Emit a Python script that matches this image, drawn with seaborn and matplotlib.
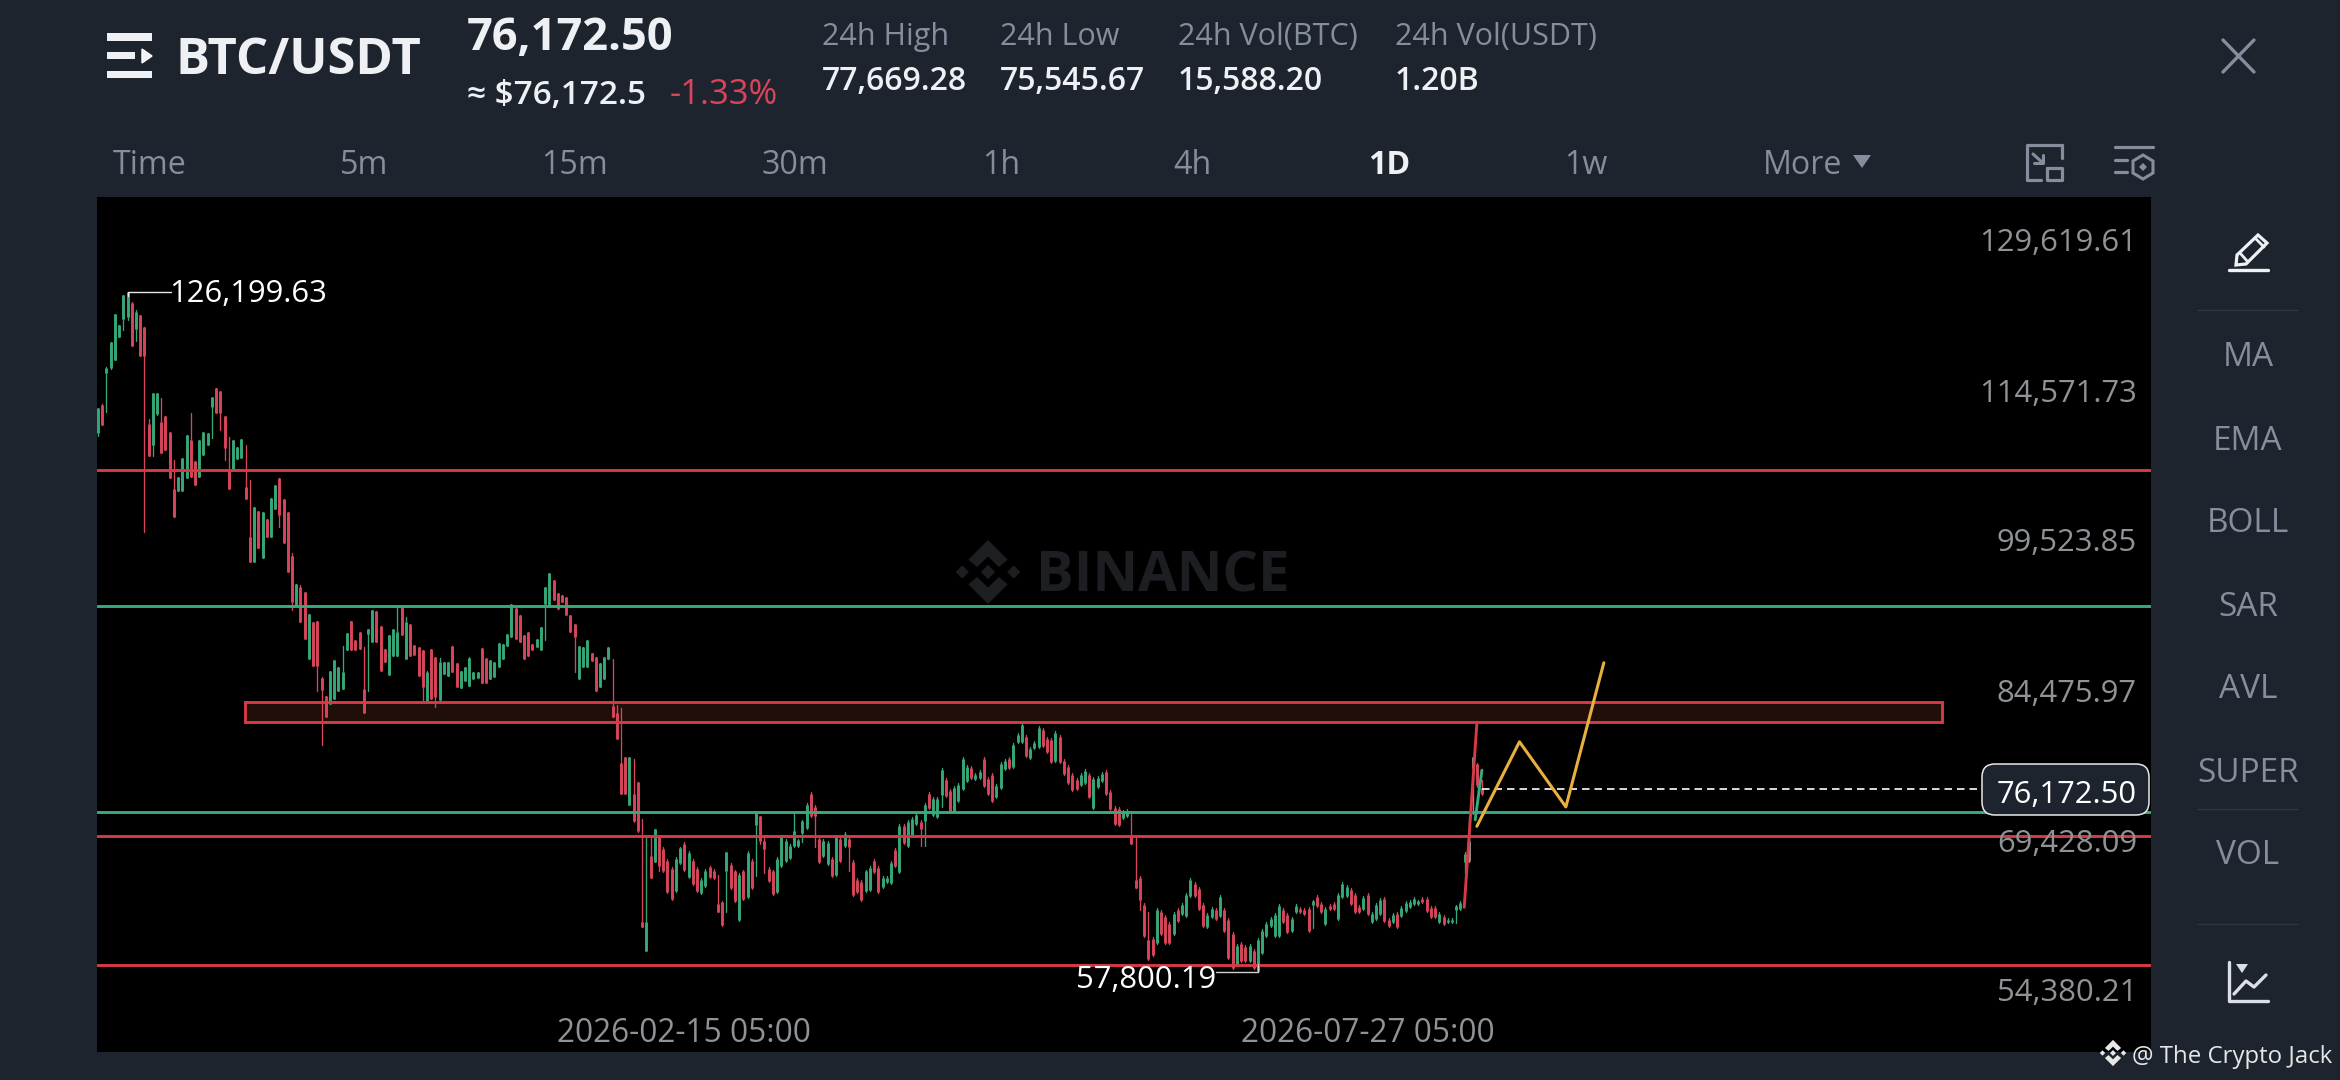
import matplotlib
matplotlib.use("Agg")
import matplotlib.pyplot as plt
from matplotlib.lines import Line2D
from matplotlib.patches import Rectangle, Polygon, FancyBboxPatch
from matplotlib.transforms import IdentityTransform
import numpy as np
import pandas as pd
import seaborn as sns

# ---- candle data, thousand USDT, daily ----
highs = [
114.5,114.9,118.7,121.2,124.0,122.9,125.9,126.2,125.2,124.4,
123.9,122.7,113.4,116.0,116.0,115.5,113.7,112.1,109.3,107.6,
109.5,111.8,114.0,109.2,111.3,112.1,112.0,115.6,116.5,116.2,
113.7,111.6,111.3,110.6,111.4,110.8,107.3,104.6,104.2,104.1,
103.4,105.5,106.8,107.5,105.4,104.1,99.9,96.8,96.7,96.0,
93.8,93.0,93.1,87.5,85.6,88.1,89.2,88.5,90.6,91.9,
93.1,91.2,92.0,90.5,92.3,94.2,94.1,92.6,90.3,91.7,
92.3,94.5,94.5,93.5,92.8,90.7,90.5,90.2,88.1,90.3,
89.5,89.4,89.0,89.0,90.6,88.9,88.1,88.5,89.5,88.0,
88.0,90.4,89.4,89.2,89.0,90.9,90.8,91.8,94.8,94.4,
93.7,91.7,92.0,90.8,91.3,92.5,96.5,97.9,97.2,95.9,
95.7,95.5,93.7,92.8,90.6,90.5,91.2,89.9,89.5,88.9,
89.5,90.5,89.3,84.7,84.3,79.4,79.4,79.2,76.9,73.2,
71.6,71.5,72.2,71.5,70.4,69.2,68.4,69.4,70.4,70.9,
70.0,69.2,68.4,67.2,68.2,68.5,68.2,67.5,64.9,69.9,
68.8,68.1,67.7,68.1,70.0,69.2,73.8,73.5,71.4,68.4,
68.1,69.4,71.6,71.2,70.7,73.8,71.2,73.1,74.8,75.9,
74.6,71.4,71.2,71.0,69.4,71.6,71.4,71.9,71.4,69.1,
67.2,67.0,68.1,68.5,69.2,68.5,67.4,67.4,69.0,70.3,
72.7,72.7,73.1,73.4,73.8,73.1,74.8,75.9,75.4,75.4,
78.3,77.3,76.2,76.5,76.8,79.4,78.6,78.5,77.8,78.1,
79.4,77.4,77.8,76.7,78.9,79.2,79.4,80.8,81.8,82.8,
81.6,80.4,81.0,82.5,82.3,81.4,81.3,82.0,81.6,79.2,
78.6,77.8,77.3,77.8,78.2,77.8,77.4,77.5,77.9,78.1,
76.1,74.5,74.4,74.1,74.2,74.0,71.4,67.4,64.7,63.8,
61.3,64.2,64.0,63.5,62.8,63.8,64.2,64.7,65.7,67.2,
66.8,66.3,64.7,63.7,64.3,64.2,65.5,64.2,63.2,61.8,
60.6,60.8,60.5,60.6,60.1,61.2,62.1,62.8,63.3,63.7,
64.6,64.2,63.7,63.3,64.6,64.3,64.2,64.3,65.0,65.5,
64.8,64.3,64.6,64.8,65.7,66.8,66.5,66.2,65.7,64.5,
65.4,65.7,63.8,64.7,65.2,65.3,63.2,63.7,63.8,64.4,
64.9,65.0,65.3,65.0,65.3,65.3,64.4,64.4,63.8,63.5,
63.2,63.2,64.5,64.9,69.9,73.4,79.4,78.8,77.1]
lows = [
111.7,112.8,114.1,118.5,119.4,121.7,122.4,123.4,120.8,121.3,
119.8,102.1,109.7,109.7,113.8,110.0,110.3,107.5,103.6,106.2,
106.2,107.5,107.6,106.8,107.6,109.8,110.8,111.5,114.0,112.3,
109.3,106.4,108.4,109.4,109.5,105.4,99.0,99.0,100.4,99.4,
101.6,101.6,104.4,102.6,100.9,98.0,94.2,94.5,93.0,91.3,
89.3,88.6,86.1,80.6,83.4,84.8,85.3,86.1,86.3,90.2,
90.2,90.2,90.3,83.8,86.1,91.0,91.0,88.1,89.0,87.7,
89.6,89.6,91.7,89.3,89.6,89.7,87.6,85.1,85.1,85.3,
84.4,85.1,87.8,87.6,88.0,86.5,86.4,87.1,86.6,87.3,
87.4,86.9,86.9,87.3,87.5,88.5,89.3,90.6,91.5,91.3,
91.0,89.3,89.6,90.2,90.5,90.2,91.2,94.6,95.2,94.3,
95.0,93.7,92.0,88.0,87.3,88.5,88.5,89.1,86.1,86.5,
87.3,89.3,83.4,81.2,75.7,75.7,74.6,72.9,71.9,62.3,
59.9,67.2,68.9,67.9,67.8,65.7,65.0,65.8,68.7,68.0,
67.2,66.5,65.8,65.6,66.3,67.2,67.1,63.8,62.4,63.8,
66.1,64.8,62.9,65.0,65.2,66.1,67.4,70.7,67.7,66.8,
65.5,65.7,68.4,68.9,69.2,70.4,70.4,70.9,72.2,73.4,
70.4,68.8,69.4,68.6,67.3,67.4,68.9,70.4,68.0,65.4,
65.7,64.9,65.8,65.9,67.7,65.7,66.2,66.7,66.6,68.4,
67.7,70.7,70.4,71.5,72.6,70.5,70.5,74.2,73.5,73.3,
74.4,75.4,73.9,73.8,74.9,76.1,76.9,77.2,77.1,77.2,
76.4,75.6,74.9,75.3,76.2,78.1,78.2,78.3,80.8,80.8,
79.4,79.2,80.2,80.3,80.4,79.8,78.8,78.9,78.8,77.6,
76.7,76.0,76.1,76.5,76.7,75.3,74.2,76.3,76.9,75.6,
74.1,72.6,72.5,73.2,73.4,70.7,66.2,64.0,61.3,59.0,
59.4,60.6,61.5,60.6,60.6,61.5,62.8,63.5,63.3,65.3,
65.3,64.0,62.3,62.2,63.2,63.0,63.3,61.8,59.1,58.1,
58.4,58.8,58.8,58.8,58.1,57.8,59.6,61.3,62.3,61.3,
61.3,62.7,61.7,61.8,63.7,63.7,63.5,61.8,62.2,64.3,
63.7,62.5,64.0,64.0,63.0,65.2,65.3,64.5,63.7,63.7,
64.0,63.5,62.7,63.0,63.5,62.8,62.3,62.7,62.2,63.3,
63.8,64.2,64.5,64.5,64.7,63.8,63.2,63.2,62.7,62.5,
62.7,62.7,62.7,64.0,67.7,68.9,73.7,76.4,75.6]
opens = [
112.0,114.8,118.1,118.6,119.4,121.7,123.5,123.7,125.1,122.5,
123.9,122.7,112.9,110.8,113.9,113.1,113.7,112.1,106.4,106.2,
106.2,107.5,111.3,109.2,107.6,109.8,110.8,114.6,116.5,116.2,
113.7,108.3,108.4,109.4,109.5,106.6,101.6,99.0,104.2,99.4,
103.4,101.6,104.4,107.5,105.4,104.1,99.6,94.5,96.5,96.0,
89.3,93.0,93.1,87.4,85.6,84.8,85.3,86.1,86.3,90.2,
93.1,91.2,92.0,86.3,91.8,91.0,94.1,92.6,90.3,87.7,
89.6,89.6,94.5,89.3,92.8,90.7,90.5,90.2,85.1,90.3,
89.5,85.2,87.8,87.6,90.6,88.9,86.4,87.1,86.6,87.3,
87.4,90.4,89.4,87.3,87.5,88.5,89.3,90.6,91.5,94.4,
93.7,91.7,92.0,90.8,90.5,90.2,94.8,94.6,97.2,95.9,
95.7,95.5,93.7,92.8,87.3,88.5,88.5,89.9,89.5,86.5,
87.3,89.3,84.6,83.8,78.8,79.4,74.6,75.7,76.9,62.8,
59.9,69.5,68.9,71.5,70.2,69.0,68.2,65.9,68.8,70.7,
67.3,69.0,68.2,65.7,66.4,68.4,68.0,64.6,64.8,67.9,
68.6,67.9,63.0,67.9,65.3,69.0,72.6,73.5,71.0,68.2,
67.9,65.8,68.5,69.0,69.3,70.5,70.5,71.8,72.3,75.7,
74.4,71.2,69.5,68.7,69.2,67.5,71.2,70.5,71.2,68.9,
67.0,66.8,65.9,66.0,69.0,68.3,66.3,66.8,66.7,70.1,
67.8,72.5,70.5,71.6,72.7,72.9,73.0,75.7,73.6,73.4,
75.6,77.1,76.0,73.9,75.0,76.2,77.0,78.3,77.2,77.3,
79.2,77.2,77.6,75.4,76.3,78.2,79.2,78.4,80.9,80.9,
81.4,79.3,80.3,80.4,82.1,81.2,81.1,79.0,81.4,79.0,
78.4,77.6,77.1,76.6,76.8,77.6,74.3,76.4,77.0,77.9,
75.9,74.3,74.2,73.3,73.5,71.4,67.0,67.2,64.5,61.0,
61.1,60.7,63.8,63.3,62.6,61.6,64.0,63.6,63.4,65.4,
66.6,66.1,64.5,62.3,63.3,64.0,63.4,64.0,63.0,61.6,
58.5,60.6,60.3,58.9,59.9,57.9,59.7,61.4,62.4,61.4,
61.4,64.0,63.5,61.9,63.8,64.1,64.0,64.1,64.5,65.3,
64.6,62.6,64.4,64.6,63.1,65.3,65.4,66.0,65.5,64.3,
64.1,65.5,62.8,63.1,63.6,65.1,63.0,62.8,63.6,63.4,
63.9,64.3,64.6,64.6,65.1,65.1,64.2,64.2,62.8,63.3,
62.8,62.8,64.0,64.1,68.9,71.0,79.4,78.7,76.3]
closes = [
114.5,112.8,118.6,121.2,124.0,122.9,125.9,126.2,120.8,124.2,
119.8,119.8,109.7,116.0,116.0,110.0,110.3,107.5,103.6,107.6,
109.5,111.8,107.6,106.8,111.3,112.1,112.0,115.6,114.0,114.0,
110.5,106.4,111.3,110.6,111.4,105.4,99.0,104.6,100.4,104.1,
101.6,105.5,106.8,103.8,100.9,98.0,95.0,96.8,93.0,91.3,
93.8,88.6,88.6,86.2,83.4,88.1,89.2,88.5,88.0,91.9,
90.2,90.2,90.3,83.8,92.3,94.2,91.0,88.1,89.0,91.7,
92.3,92.0,91.7,93.0,89.6,89.7,87.6,86.5,88.0,85.3,
85.5,89.0,89.0,89.0,88.0,86.5,88.1,88.5,89.4,88.0,
88.0,86.9,86.9,89.2,89.0,90.9,90.8,91.8,94.8,91.3,
91.0,89.3,89.6,90.2,91.3,92.5,96.5,97.9,95.2,94.3,
95.0,93.7,92.0,91.5,90.6,90.5,91.2,89.1,86.1,88.9,
89.5,90.5,83.4,81.2,75.7,75.7,79.4,73.0,72.0,62.3,
62.8,67.2,72.2,68.5,67.9,65.8,65.1,69.2,70.3,68.1,
69.8,66.6,65.9,67.0,68.0,67.3,67.2,63.8,62.5,69.9,
66.2,64.9,67.5,65.1,69.8,66.2,73.8,71.0,70.2,66.9,
65.6,69.2,71.4,71.0,70.5,72.0,71.1,73.0,74.6,73.5,
73.5,68.9,71.0,70.8,67.4,71.4,69.0,71.7,70.4,65.5,
65.8,65.0,67.9,68.3,67.8,65.8,67.2,67.2,68.8,68.5,
72.5,70.8,72.9,73.2,73.6,72.2,74.6,74.3,75.2,75.2,
78.1,75.5,74.0,76.3,76.6,79.2,78.4,77.3,77.6,77.9,
76.5,75.7,75.0,76.5,78.7,79.0,78.3,80.6,81.6,82.6,
79.5,80.2,80.8,82.3,80.5,79.9,78.9,81.8,78.9,77.7,
76.8,76.1,76.2,77.6,78.0,75.4,77.2,77.3,77.7,75.7,
74.2,72.7,72.6,73.9,74.0,70.7,66.2,65.0,61.4,59.1,
59.5,64.0,61.6,60.7,60.7,63.6,62.9,64.5,65.5,67.0,
65.4,64.1,62.4,63.5,64.1,63.1,65.3,61.9,59.2,58.2,
60.4,58.9,58.9,60.4,58.2,61.0,61.9,62.6,63.1,63.5,
64.4,62.8,61.8,63.1,64.4,63.8,63.6,61.9,64.9,64.4,
63.8,64.1,64.1,64.1,65.5,66.6,66.3,64.6,63.8,63.8,
65.2,63.6,63.6,64.5,65.0,62.9,62.4,63.5,62.3,64.2,
64.7,64.8,65.1,64.9,64.8,63.9,63.3,63.3,63.6,62.6,
63.0,63.0,64.4,64.7,69.7,69.0,78.3,76.6,75.7]
muted_days = [325, 326]

price_ticks = [129619.61, 114571.73, 99523.85, 84475.97, 69428.09, 54380.21]
time_labels = ["2026-02-15 05:00", "2026-07-27 05:00"]
time_label_days = [139, 301]
red_levels = [108.3, 71.5, 58.5]
green_levels = [94.6, 73.9]
zone_low, zone_high = 82.9, 85.0
zone_start, zone_end = 34.9, 437.2
path_days = [326.9, 337.0, 348.0, 357.0]
path_prices = [72.45, 80.95, 74.4, 88.9]
last_price = 76.1725
drawn_red = ([323.9, 326.9], [64.3, 82.8])
drawn_green = ([326.5, 328.1], [73.1, 78.1])
tabs = ["5m", "15m", "30m", "1h", "4h", "1D", "1w"]
tab_x = [364, 575, 795, 1001, 1192, 1389, 1586]
side_labels = ["MA", "EMA", "BOLL", "SAR", "AVL", "SUPER", "VOL"]
side_y = [354, 437, 519, 603, 685, 769, 852]
stat_names = ["24h High", "24h Low", "24h Vol(BTC)", "24h Vol(USDT)"]
stat_values = ["77,669.28", "75,545.67", "15,588.20", "1.20B"]
stat_x = [822, 1000, 1178, 1395]

BG = "#1e242e"
RED = "#d63a44"
GREEN = "#3aa97c"
CRED = "#d8455a"
CGREEN = "#35a878"
GREY = "#848e9c"
AXGREY = "#8f9296"
WHITE = "#eef0f4"

sns.set_theme(style="dark")
plt.rcParams["font.family"] = ["Open Sans", "DejaVu Sans"]
W, H = 2340, 1080
PX_PER_DAY = 4.218
XLIM = (-1 / PX_PER_DAY, 2053 / PX_PER_DAY)
YLIM = (49.74, 135.76)
fig = plt.figure(figsize=(W / 100, H / 100), dpi=100, facecolor=BG)
ax = fig.add_axes([97 / W, 1 - 1052 / H, 2054 / W, 855 / H], facecolor="black")
for s in ax.spines.values():
    s.set_visible(False)

days = np.arange(len(highs))
df = pd.DataFrame(dict(day=days, o=opens, h=highs, l=lows, c=closes))
df["dir"] = np.where(df.c >= df.o, "up", "down")
df.loc[df.day.isin(muted_days), "dir"] = "muted"
palette = {"up": CGREEN, "down": CRED, "muted": "#8f8f86"}

wick = df.melt(id_vars=["day", "dir"], value_vars=["h", "l"], value_name="price")
body = df.melt(id_vars=["day", "dir"], value_vars=["o", "c"], value_name="price")
sns.lineplot(data=wick, x="day", y="price", hue="dir", units="day", estimator=None,
             palette=palette, linewidth=0.95, legend=False, ax=ax, sort=False, zorder=3)
sns.lineplot(data=body, x="day", y="price", hue="dir", units="day", estimator=None,
             palette=palette, linewidth=2.1, legend=False, ax=ax, sort=False, zorder=3,
             solid_capstyle="butt")

for lv in red_levels:
    ax.axhline(lv, color=RED, lw=2.1, zorder=4)
for lv in green_levels:
    ax.axhline(lv, color=GREEN, lw=2.1, zorder=4)
ax.add_patch(Rectangle((zone_start, zone_low), zone_end - zone_start, zone_high - zone_low,
                       facecolor="#1f0f08", edgecolor="none", zorder=2))
ax.add_patch(Rectangle((zone_start, zone_low), zone_end - zone_start, zone_high - zone_low,
                       facecolor="none", edgecolor=RED, lw=2.1, zorder=4))

sns.lineplot(x=drawn_green[0], y=drawn_green[1], color=GREEN, lw=2.1, ax=ax, zorder=5, sort=False, errorbar=None)
sns.lineplot(x=drawn_red[0], y=drawn_red[1], color=RED, lw=2.1, ax=ax, zorder=5, sort=False, errorbar=None)
sns.lineplot(x=path_days, y=path_prices, color="#e8b13f", lw=2.2, ax=ax, zorder=6, sort=False, errorbar=None)
ax.plot([len(highs) - 1, (1982 - 98) / PX_PER_DAY], [last_price, last_price], color="white",
        lw=1.2, ls=(0, (4.5, 3)), zorder=5)

# high / low markers
i_hi = int(np.argmax(highs)); i_lo = int(np.argmin(lows))
ax.plot([i_hi, i_hi, i_hi + 10.2], [max(highs) - 0.4, max(highs), max(highs)], color="#e8e8e8", lw=1, zorder=6)
ax.plot([i_lo, i_lo, i_lo - 10], [min(lows) + 0.8, min(lows), min(lows)], color="#d0d0d0", lw=1, zorder=6)

ax.set_xlabel(""); ax.set_ylabel("")
ax.set_xticks([]); ax.set_yticks([])
ax.grid(False)
ax.set_xlim(*XLIM); ax.set_ylim(*YLIM)


def T(x, y, s, size=21, color=WHITE, weight="normal", ha="left", va="center", **kw):
    return fig.text(x / W, 1 - (y + 3) / H, s, fontsize=size, color=color, fontweight=weight,
                    ha=ha, va=va, **kw)


def L(xs, ys, color=GREY, lw=2.0, **kw):
    fig.add_artist(Line2D([x / W for x in xs], [1 - y / H for y in ys], color=color, lw=lw,
                          transform=fig.transFigure, **kw))


def R(x0, y0, x1, y1, color):
    fig.add_artist(Rectangle((x0 / W, 1 - y1 / H), (x1 - x0) / W, (y1 - y0) / H, facecolor=color,
                             edgecolor="none", transform=fig.transFigure))


def P(pts, color, **kw):
    fig.add_artist(Polygon([(x / W, 1 - y / H) for x, y in pts], closed=True, facecolor=color,
                           transform=fig.transFigure, **kw))


def logo(cx, cy, r, color, **kw):
    k = r / 100
    top = [(0, -97), (60, -37), (33, -15), (0, -47), (-33, -15), (-60, -37)]
    P([(cx + a * k, cy + b * k) for a, b in top], color, edgecolor="none", **kw)
    P([(cx + a * k, cy - b * k) for a, b in top], color, edgecolor="none", **kw)
    for dx, rad in [(0, 22), (-78, 20), (78, 20)]:
        P([(cx + (dx + a) * k, cy + b * k) for a, b in [(0, -rad), (rad, 0), (0, rad), (-rad, 0)]],
          color, edgecolor="none", **kw)


# value labels inside the chart
T(169, 291, "126,199.63", size=22.3, color="white", zorder=8)
T(1216, 977, "57,800.19", size=22.3, color="white", ha="right", zorder=8)
for p, y in zip(price_ticks, [240, 391, 540, 691, 841, 990]):
    T(2137, y, f"{p:,.2f}", size=22.3, color=AXGREY, ha="right", zorder=8)
for s, d in zip(time_labels, time_label_days):
    T(98 + PX_PER_DAY * d, 1031, s, size=22.8, color=AXGREY, ha="center", zorder=8)

# watermark
fig.text(1036 / W, 1 - 591 / H, "BINANCE", fontsize=40.5, color="#1c1e22", fontweight="bold",
         ha="left", va="baseline", zorder=1.5)
logo(988, 572, 33, "#1c1e22", zorder=1.5)

# last-price tag
fig.add_artist(FancyBboxPatch((1982, H - 815), 167, 51, boxstyle="round,pad=0,rounding_size=13",
                              facecolor=BG, edgecolor="#e8e8e8", lw=1.1,
                              transform=IdentityTransform(), zorder=8))
T(2137, 792, "76,172.50", size=22.3, color="white", ha="right", zorder=9)

# header
R(107, 33, 152, 41, WHITE); R(107, 52, 135, 59, WHITE); R(107, 71, 152, 78, WHITE)
P([(142, 49), (152, 56), (142, 63)], WHITE)
T(175, 58, "BTC/USDT", size=36.5, weight="bold")
T(467, 35, "76,172.50", size=32.6, weight="bold")
T(467, 92, "≈ $76,172.5", size=24, weight="semibold")
T(670, 92, "-1.33%", size=25, color="#d9435c")
for n, v, x in zip(stat_names, stat_values, stat_x):
    T(x, 34, n, size=22, color=GREY)
    T(x, 79, v, size=23, color=WHITE, weight="semibold")

# interval tabs
T(113, 163, "Time", size=23.2, color=GREY)
for s, x in zip(tabs, tab_x):
    T(x, 163, s, size=23.2, color=WHITE if s == "1D" else GREY,
      weight="bold" if s == "1D" else "normal", ha="center")
T(1763, 163, "More", size=23.2, color=GREY)
P([(1853, 155), (1871, 155), (1862, 168)], GREY, edgecolor="none")
L([2062, 2062], [158, 145], lw=2.3); L([2062, 2027, 2027, 2041], [145, 145, 180, 180], lw=2.3)
L([2033, 2043], [154, 163], lw=2.2); L([2034, 2043, 2043], [163, 163, 155], lw=2.2)
L([2047, 2062, 2062, 2047, 2047], [168, 168, 180, 180, 168], lw=2.3)
L([2115, 2153], [147, 147], lw=2.3)
L([2115, 2127], [160, 160], lw=2.3); L([2115, 2127], [172, 172], lw=2.3)
P([(2143, 155), (2153, 161), (2153, 173), (2143, 179), (2133, 173), (2133, 161)], "none",
  edgecolor=GREY, lw=2.2)
P([(2143, 163), (2147, 167), (2143, 171), (2139, 167)], GREY, edgecolor="none")
L([2223, 2254], [40, 72], color=GREY, lw=2.4); L([2254, 2223], [40, 72], color=GREY, lw=2.4)

# side panel
P([(2236, 265), (2237, 255), (2258, 235), (2267, 243), (2246, 264)], "none", edgecolor=WHITE, lw=2.3)
L([2240, 2248], [253, 262], color=WHITE, lw=2); L([2255, 2264], [238, 247], color=WHITE, lw=2)
L([2229, 2268], [270, 270], color=WHITE, lw=2.4)
for y in [310, 809, 924]:
    L([2197, 2298], [y, y], color="#2f3642", lw=1)
for s, y in zip(side_labels, side_y):
    T(2248, y + 1, s, size=24, color=GREY, ha="center")
L([2229, 2229, 2268], [962, 1001, 1001], color="#dcdfe4", lw=2.4)
L([2234, 2246, 2254, 2266], [994, 981, 987, 975], color="#dcdfe4", lw=2.4)
P([(2236, 964), (2248, 964), (2242, 973)], "#dcdfe4", edgecolor="none")

# credit
logo(2113, 1053, 13.5, "#e8e8e8", zorder=9)
T(2132, 1054, "@ The Crypto Jack", size=17.3, color="#e6e6e6", zorder=9)

fig.savefig("out.png", dpi=100, facecolor=BG)
